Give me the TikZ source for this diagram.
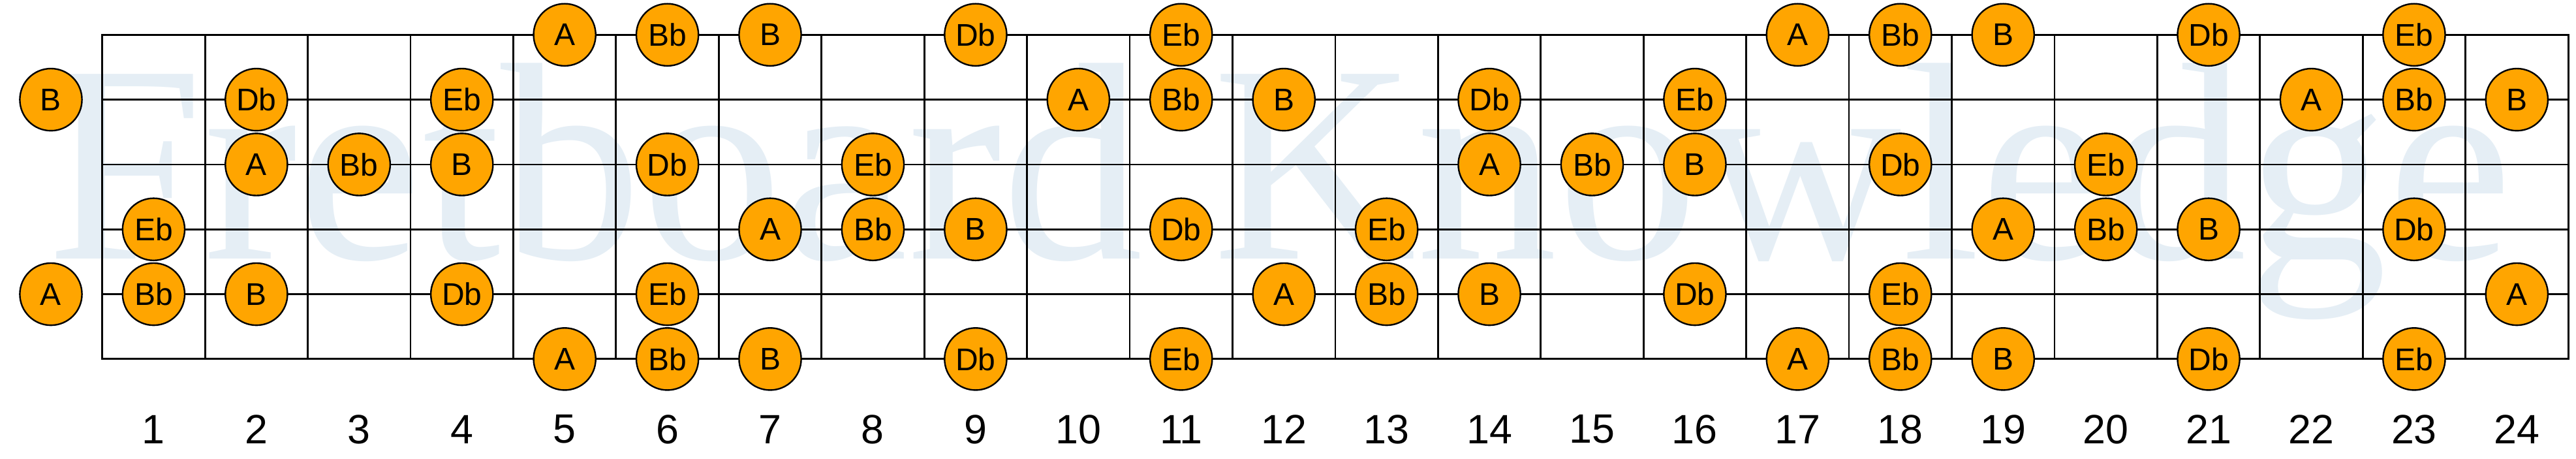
\documentclass[tikz,border=0pt]{standalone}
\usepackage{fontspec}
\setmainfont{Liberation Sans}
\newfontfamily\markfont{Liberation Serif}
\definecolor{noteorange}{HTML}{FFA500}
\definecolor{markblue}{HTML}{E5EEF5}

\begin{document}
\begin{tikzpicture}[
        x=39.36pt, y=24.83pt,
        note/.style={draw, circle, fill=noteorange, line width=0.6pt, minimum size=23.8pt, inner sep=0pt, font=\fontsize{12}{12}\selectfont},
        fretnum/.style={font=\fontsize{15.7}{15.7}\selectfont},
        wire/.style={line width=0.7pt, line cap=rect}]
    \useasboundingbox (-0.9954,0.5366) rectangle (24.076,-6.541);
    % watermark behind the board
    \node[anchor=base west, inner sep=0pt, text=markblue, font=\markfont\fontsize{108}{108}\selectfont] (mark) at (-0.544,-3.46) {Fretboard Knowledge};
    % frets and strings
    \foreach \f in {0,...,24}
        \draw[wire] (\f,0) -- (\f,-5);
    \foreach \s in {0,...,5}
        \draw[wire] (0,-\s) -- (24,-\s);
    % fret numbers
    \foreach \f in {1,...,24}
        \node[fretnum] (num\f) at (\f-0.5,-6.083) {\f};
    % notes, string by string (high E at top)
    \foreach \f/\n in {5/A, 6/Bb, 7/B, 9/Db, 11/Eb, 17/A, 18/Bb, 19/B, 21/Db, 23/Eb}
        \node[note] (e\f) at (\f-0.5,0) {\n};
    \foreach \f/\n in {0/B, 2/Db, 4/Eb, 10/A, 11/Bb, 12/B, 14/Db, 16/Eb, 22/A, 23/Bb, 24/B}
        \node[note] (b\f) at (\f-0.5,-1) {\n};
    \foreach \f/\n in {2/A, 3/Bb, 4/B, 6/Db, 8/Eb, 14/A, 15/Bb, 16/B, 18/Db, 20/Eb}
        \node[note] (g\f) at (\f-0.5,-2) {\n};
    \foreach \f/\n in {1/Eb, 7/A, 8/Bb, 9/B, 11/Db, 13/Eb, 19/A, 20/Bb, 21/B, 23/Db}
        \node[note] (d\f) at (\f-0.5,-3) {\n};
    \foreach \f/\n in {0/A, 1/Bb, 2/B, 4/Db, 6/Eb, 12/A, 13/Bb, 14/B, 16/Db, 18/Eb, 24/A}
        \node[note] (a\f) at (\f-0.5,-4) {\n};
    \foreach \f/\n in {5/A, 6/Bb, 7/B, 9/Db, 11/Eb, 17/A, 18/Bb, 19/B, 21/Db, 23/Eb}
        \node[note] (lowe\f) at (\f-0.5,-5) {\n};
\end{tikzpicture}
\end{document}
